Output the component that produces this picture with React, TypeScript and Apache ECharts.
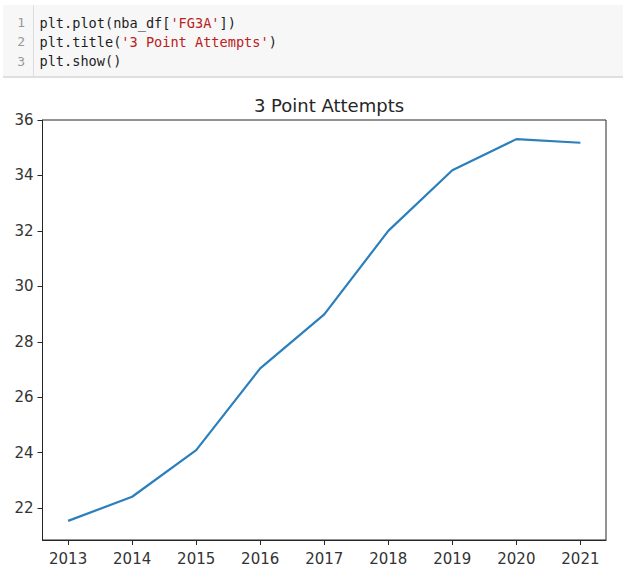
import React, { useEffect, useRef } from "react";
import * as echarts from "echarts";

const years = [2013, 2014, 2015, 2016, 2017, 2018, 2019, 2020, 2021];
const fg3a = [21.54, 22.41, 24.09, 27.04, 28.99, 32.0, 34.19, 35.31, 35.18];
const yTicks = [22, 24, 26, 28, 30, 32, 34, 36];
const titleText = "3 Point Attempts";
const codeLines = [
  ["plt.plot(nba_df[", "'FG3A'", "])"],
  ["plt.title(", "'3 Point Attempts'", ")"],
  ["plt.show()", "", ""],
];

export default function App() {
  const ref = useRef<HTMLDivElement>(null);
  useEffect(() => {
    if (!ref.current) return;
    const chart = echarts.init(ref.current, null, { renderer: "svg" });
    const mono = "DejaVu Sans Mono";
    const codeGraphics: any[] = [
      { type: "rect", shape: { x: 3, y: 5, width: 620, height: 71 }, style: { fill: "#f7f7f7" } },
      { type: "rect", shape: { x: 3, y: 76, width: 620, height: 2 }, style: { fill: "#dfdfdf" } },
      { type: "rect", shape: { x: 33, y: 5, width: 1, height: 71 }, style: { fill: "#dddddd" } },
    ];
    codeLines.forEach((parts, i) => {
      const y = 22.5 + i * 19.3;
      codeGraphics.push({
        type: "text",
        style: { x: 25, y, text: String(i + 1), fill: "#999999", font: `13px "${mono}"`, align: "right", verticalAlign: "middle" },
      });
      const t = parts[1]
        ? `{n|${parts[0]}}{s|${parts[1]}}{n|${parts[2]}}`
        : `{n|${parts[0]}}`;
      codeGraphics.push({
        type: "text",
        style: {
          x: 39.5,
          y,
          text: t,
          verticalAlign: "middle",
          rich: {
            n: { fill: "#1e1e1e", fontFamily: mono, fontSize: 13.6 },
            s: { fill: "#ba2121", fontFamily: mono, fontSize: 13.6 },
          },
        },
      });
    });

    chart.setOption({
      animation: false,
      backgroundColor: "#ffffff",
      title: {
        text: titleText,
        left: 324,
        top: 91,
        textAlign: "center",
        textStyle: { fontFamily: "DejaVu Sans", fontSize: 18, fontWeight: "normal", color: "#262626" },
      },
      grid: {
        left: 42.5,
        top: 120,
        width: 563.5,
        height: 420,
        show: true,
        borderColor: "#262626",
        borderWidth: 1,
        backgroundColor: "#ffffff",
      },
      xAxis: {
        type: "value",
        min: 2012.6,
        max: 2021.4,
        splitLine: { show: false },
        axisLine: { show: true, lineStyle: { color: "#262626", width: 1 } },
        axisTick: { show: true, length: 5, lineStyle: { color: "#262626" }, customValues: years },
        axisLabel: {
          customValues: years,
          formatter: (v: number) => String(Math.round(v)),
          fontFamily: "DejaVu Sans",
          fontSize: 15,
          color: "#333333",
          margin: 11,
        },
      },
      yAxis: {
        type: "value",
        min: 20.85,
        max: 36.0,
        splitLine: { show: false },
        axisLine: { show: true, lineStyle: { color: "#262626", width: 1 } },
        axisTick: { show: true, length: 5, lineStyle: { color: "#262626" }, customValues: yTicks },
        axisLabel: {
          customValues: yTicks,
          formatter: (v: number) => String(Math.round(v)),
          fontFamily: "DejaVu Sans",
          fontSize: 15,
          color: "#333333",
          margin: 9,
        },
      },
      series: [
        {
          type: "line",
          data: years.map((y, i) => [y, fg3a[i]]),
          showSymbol: false,
          symbol: "none",
          lineStyle: { color: "#2a7fbc", width: 2.2 },
          clip: false,
        },
      ],
      graphic: codeGraphics,
    });
    return () => chart.dispose();
  }, []);
  return (
    <div
      ref={ref}
      style={{ position: "fixed", left: 0, top: 0, width: 635, height: 582, background: "#fff" }}
    />
  );
}
